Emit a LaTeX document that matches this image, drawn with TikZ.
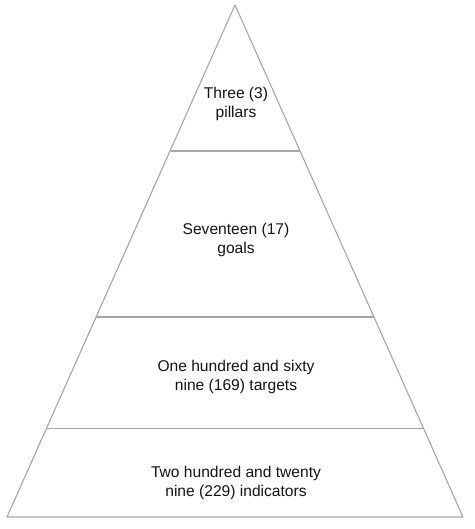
\documentclass[tikz,border=0pt]{standalone}
\usepackage{fontspec}
\setmainfont{Liberation Sans}
\begin{document}
\begin{tikzpicture}[x=1pt,y=-1pt,
  edge/.style={draw=black!35,line width=1.1pt,line join=round},
  lbl/.style={align=center,font=\fontsize{15.6}{19}\selectfont,text=black!92,inner sep=0pt}]
\useasboundingbox (0,0) rectangle (474,529);
\coordinate (apex) at (235,5);
\coordinate (bl) at (7,517);
\coordinate (br) at (463,517);
\coordinate (l1) at (170.5,151);
\coordinate (r1) at (299.5,151);
\coordinate (l2) at (96,317);
\coordinate (r2) at (374,317);
\coordinate (l3) at (47,428.5);
\coordinate (r3) at (423,428.5);
\draw[edge] (apex) -- (bl) -- (br) -- cycle;
\draw[edge] (l1) -- (r1);
\draw[edge] (l2) -- (r2);
\draw[edge] (l3) -- (r3);
\node[lbl] (t1) at (236,104) {Three (3)\\pillars};
\node[lbl] (t2) at (236,240) {Seventeen (17)\\goals};
\node[lbl] (t3) at (236,377) {One hundred and sixty\\nine (169) targets};
\node[lbl] (t4) at (236,483) {Two hundred and twenty\\nine (229) indicators};
\end{tikzpicture}
\end{document}
